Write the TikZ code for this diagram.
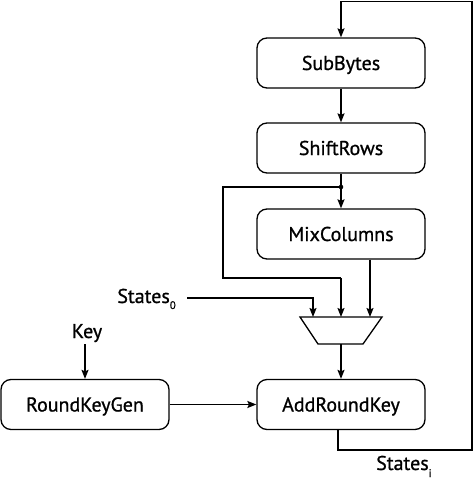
\documentclass[tikz,border=0pt]{standalone}
\usepackage{fontspec}
\setmainfont[FakeBold=0.9]{PT Sans}
\usetikzlibrary{arrows.meta}
\begin{document}
\begin{tikzpicture}[x=1pt,y=-1pt,
  blk/.style={draw, line width=1.3pt, rounded corners=10pt, minimum width=168pt, minimum height=50pt, inner sep=0pt, text height=14pt, text depth=0pt, font=\fontsize{20}{22}\selectfont},
  lbl/.style={inner sep=0pt, font=\fontsize{20}{22}\selectfont},
  wire/.style={line width=1.3pt},
  arr/.style={wire, -{Stealth[length=9pt,width=7pt,inset=1.5pt]}}]
\useasboundingbox (0,0) rectangle (474,481);
% blocks
\node[blk] (sb) at (341,63) {SubBytes};
\node[blk] (sr) at (341,148) {ShiftRows};
\node[blk] (mc) at (341,234) {MixColumns};
\node[blk] (ark) at (341,404.5) {AddRoundKey};
\node[blk] (rkg) at (85,404.5) {RoundKeyGen};
% labels
\node[lbl, anchor=base] (key) at (87,338) {Key};
\node[lbl, anchor=base east] (states0) at (176,303) {States\raisebox{-6pt}{\fontsize{11}{11}\selectfont 0}};
\node[lbl, anchor=base west] (statesi) at (376,470) {States\raisebox{-7pt}{\fontsize{11}{11}\selectfont i}};
% mux
\coordinate (m1) at (300,317);
\coordinate (m2) at (382,317);
\coordinate (m3) at (363,344);
\coordinate (m4) at (318,344);
\draw[wire, line join=miter] (m1) -- (m2) -- (m3) -- (m4) -- cycle;
\coordinate (mA) at (313,317);
\coordinate (mB) at (341,317);
\coordinate (mC) at (370,317);
\coordinate (mO) at (341,344);
% helper coordinates
\coordinate (dot) at (341,187);
\coordinate (byL) at (223,187);
\coordinate (byB) at (223,278);
\coordinate (byR) at (341,278);
\coordinate (s0) at (187,298);
\coordinate (fbR) at (472,450);
\coordinate (fbT) at (472,1.5);
% connectors
\draw[arr] (sb.south) -- (sr.north);
\draw[wire] (sr.south) -- (dot);
\fill (dot) circle (2.3pt);
\draw[arr] (dot) -- (mc.north);
\draw[wire] (dot) -- (byL) -- (byB) -- (byR);
\draw[arr] (byR) -- (mB);
\draw[arr] (mc.south -| mC) -- (mC);
\draw[arr] (s0) -| (mA);
\draw[arr] (mO) -- (ark.north);
\draw[arr] ([yshift=-2pt]key.south -| rkg.north) -- (rkg.north);
\draw[arr] (rkg.east) -- (ark.west);
\draw[arr] ([xshift=-3pt]ark.south) |- (fbR) -- (fbT) -| (sb.north);
\end{tikzpicture}
\end{document}
